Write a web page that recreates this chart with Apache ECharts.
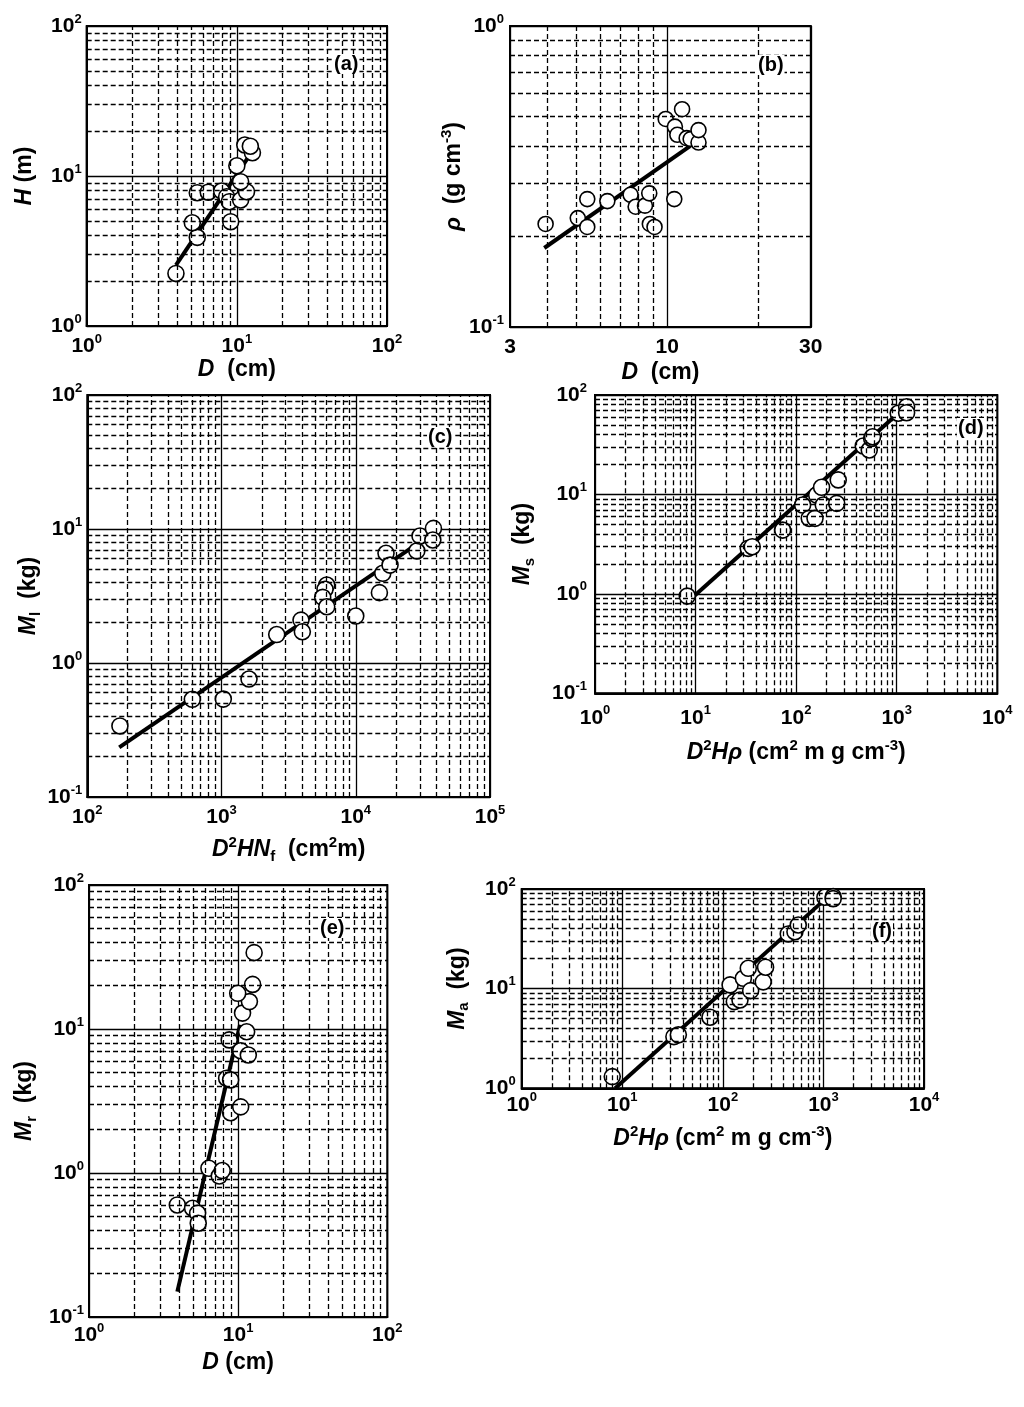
<!DOCTYPE html>
<html><head><meta charset="utf-8">
<script src="https://cdn.jsdelivr.net/npm/echarts@6/dist/echarts.min.js"></script>
<style>html,body{margin:0;padding:0;background:#fff}#c{width:1024px;height:1407px}</style>
</head><body><div id="c"></div>
<script>
// ---------- data ----------
// (a) H vs D
const aD = [3.93, 5.45, 5.05, 5.45, 6.45, 7.92, 8.55, 8.9, 9.1, 10.6, 11.6, 10.6, 10.0, 11.3, 12.7, 12.3];
const aH = [2.24, 3.9, 4.88, 7.74, 7.8, 7.94, 7.28, 6.74, 4.96, 6.92, 7.86, 9.16, 11.7, 16.1, 14.3, 15.8];
const aFitX = [3.93, 11.9];
const aFitY = [2.55, 13.3];
// (b) rho vs D
const bD = [3.94, 5.04, 5.42, 5.42, 6.32, 7.55, 7.85, 8.43, 8.71, 8.75, 9.07, 10.55, 9.88, 10.6, 10.8, 11.2, 11.6, 11.96, 12.7, 12.7];
const bRho = [0.22, 0.23, 0.215, 0.266, 0.262, 0.275, 0.251, 0.253, 0.278, 0.22, 0.215, 0.266, 0.491, 0.463, 0.435, 0.529, 0.424, 0.421, 0.41, 0.451];
const bFitX = [3.9, 11.9];
const bFitY = [0.183, 0.399];
// (c) Ml vs D2HNf
const cX = [175, 606, 1031, 1602, 2577, 3909, 4000, 6080, 5900, 5670, 6080, 10000, 15000, 15900, 16800, 18000, 28500, 30100, 37900, 37500];
const cMl = [0.339, 0.536, 0.538, 0.76, 1.63, 2.09, 1.71, 3.82, 3.55, 3.09, 2.63, 2.24, 3.35, 4.67, 6.59, 5.38, 6.85, 8.87, 10.1, 8.28];
const cFitX = [173, 33800];
const cFitY = [0.235, 8.67];
// (d) Ms vs D2Hrho
const dX = [8.27, 33.4, 36.6, 73.4, 116, 135, 154, 160, 179, 186, 253, 262, 465, 533, 563, 575, 1035, 1254, 1254];
const dMs = [0.95, 2.87, 2.98, 4.38, 7.82, 5.75, 5.75, 9.86, 11.8, 7.82, 8.13, 14.0, 30.7, 28.0, 36.6, 38.0, 65.5, 76.2, 66.4];
const dFitX = [9.5, 1035];
const dFitY = [0.935, 65.5];
// (e) Mr vs D
const eD = [3.91, 4.95, 5.35, 5.4, 6.37, 7.47, 7.82, 8.37, 8.9, 8.9, 8.71, 10.4, 10.4, 11.7, 11.4, 10.7, 11.9, 9.93, 12.5, 12.8];
const eMr = [0.6, 0.569, 0.525, 0.448, 1.078, 0.953, 1.04, 4.55, 4.43, 2.62, 8.4, 2.88, 7.06, 6.6, 9.57, 12.9, 15.5, 17.7, 20.4, 33.9];
const eFitX = [3.91, 10.3];
const eFitY = [0.15, 10.7];
// (f) Ma vs D2Hrho
const fX = [7.95, 32.6, 36.1, 74.5, 118, 130, 148, 160, 179, 189, 252, 266, 447, 521, 562, 1035, 1250, 1250];
const fMa = [1.31, 3.3, 3.44, 5.17, 10.9, 7.41, 7.7, 12.7, 16.0, 9.55, 11.7, 16.4, 35.4, 37.3, 43.5, 82.6, 83.8, 80];
const fFitX = [8.5, 1070];
const fFitY = [1.0, 81];

// minor (dashed) grid values
const minor1to100 = [2,3,4,5,6,7,8,9,20,30,40,50,60,70,80,90];
const minor01to100 = [0.2,0.3,0.4,0.5,0.6,0.7,0.8,0.9,2,3,4,5,6,7,8,9,20,30,40,50,60,70,80,90];
const minor1e2to1e5 = [200,300,400,500,600,700,800,900,2000,3000,4000,5000,6000,7000,8000,9000,20000,30000,40000,50000,60000,70000,80000,90000];
const minor1to1e4 = [2,3,4,5,6,7,8,9,20,30,40,50,60,70,80,90,200,300,400,500,600,700,800,900,2000,3000,4000,5000,6000,7000,8000,9000];
const minorB_x = [4,5,6,7,8,9,20];
const minorB_y = [0.2,0.3,0.4,0.5,0.6,0.7,0.8,0.9];

const panelLabels = ['(a)', '(b)', '(c)', '(d)', '(e)', '(f)'];

// ---------- styling ----------
const FONT = '"Liberation Sans", Arial, Helvetica, sans-serif';
const TICK_FS = 21, NAME_FS = 23;
const tickRich = {
  sup: {fontSize: 13, fontWeight: 'bold', fontFamily: FONT, color: '#000', padding: [0, 0, 14, 0]}
};
const nameRich = {
  i: {fontSize: NAME_FS, fontWeight: 'bold', fontStyle: 'italic', fontFamily: FONT, color: '#000'},
  sup: {fontSize: 15, fontWeight: 'bold', fontFamily: FONT, color: '#000', padding: [0, 0, 13, 0]},
  sub: {fontSize: 15, fontWeight: 'bold', fontFamily: FONT, color: '#000', padding: [14, 0, 0, 0]}
};
function pow10Label(v) {
  const e = Math.round(Math.log10(v));
  return '10{sup|' + e + '}';
}
function plainLabel(v) { return String(Math.round(v)); }

function axis(i, o) {
  return {
    type: 'log', logBase: 10, gridIndex: i, min: o.min, max: o.max,
    name: o.name, nameLocation: 'middle', nameGap: o.gap,
    nameTextStyle: {fontSize: NAME_FS, fontWeight: 'bold', fontFamily: FONT, color: '#000', rich: nameRich},
    axisLine: {show: true, onZero: false, lineStyle: {color: '#000', width: 2}},
    axisTick: {show: false},
    axisLabel: {show: true, margin: o.margin, formatter: o.fmt || pow10Label,
      fontSize: TICK_FS, fontWeight: 'bold', fontFamily: FONT, color: '#000', rich: tickRich,
      showMinLabel: true, showMaxLabel: true, hideOverlap: false},
    splitLine: {show: true, lineStyle: {color: '#000', width: 1.3, type: 'solid'}},
    minorTick: {show: false}, minorSplitLine: {show: false}
  };
}

const panels = [
  {grid: [86.7, 26, 300.3, 300],
   x: {min: 1, max: 100, name: '{i|D}  (cm)', gap: 25, margin: 7}, y: {min: 1, max: 100, name: '{i|H} (m)', gap: 51, margin: 5},
   xm: minor1to100, ym: minor1to100, px: aD, py: aH, fx: aFitX, fy: aFitY, size: 16, lab: [333, 54]},
  {grid: [510, 26, 300.8, 301],
   x: {min: 3, max: 30, name: '{i|D}  (cm)', gap: 34, margin: 10, fmt: plainLabel}, y: {min: 0.1, max: 1, name: '{i|ρ}  (g cm{sup|-3})', gap: 35, margin: 6},
   xm: minorB_x, ym: minorB_y, px: bD, py: bRho, fx: bFitX, fy: bFitY, size: 15, lab: [757, 55]},
  {grid: [87.3, 395, 402.7, 402],
   x: {min: 100, max: 100000, name: '{i|D}{sup|2}{i|HN}{sub|f}  (cm{sup|2}m)', gap: 38, margin: 7}, y: {min: 0.1, max: 100, name: '{i|M}{sub|l}  (kg)', gap: 44, margin: 5},
   xm: minor1e2to1e5, ym: minor01to100, px: cX, py: cMl, fx: cFitX, fy: cFitY, size: 16, lab: [427, 427]},
  {grid: [595, 395, 402.3, 298.3],
   x: {min: 1, max: 10000, name: '{i|D}{sup|2}{i|Hρ} (cm{sup|2} m g cm{sup|-3})', gap: 45, margin: 11}, y: {min: 0.1, max: 100, name: '{i|M}{sub|s}  (kg)', gap: 58, margin: 8},
   xm: minor1to1e4, ym: minor01to100, px: dX, py: dMs, fx: dFitX, fy: dFitY, size: 16, lab: [957, 418]},
  {grid: [89, 885, 298.3, 432],
   x: {min: 1, max: 100, name: '{i|D} (cm)', gap: 34, margin: 5}, y: {min: 0.1, max: 100, name: '{i|M}{sub|r}  (kg)', gap: 50, margin: 5},
   xm: minor1to100, ym: minor01to100, px: eD, py: eMr, fx: eFitX, fy: eFitY, size: 16, lab: [319, 918]},
  {grid: [521.7, 889, 402.3, 199.3],
   x: {min: 1, max: 10000, name: '{i|D}{sup|2}{i|Hρ} (cm{sup|2} m g cm{sup|-3})', gap: 36, margin: 3}, y: {min: 1, max: 100, name: '{i|M}{sub|a}  (kg)', gap: 50, margin: 6},
   xm: minor1to1e4, ym: minor1to100, px: fX, py: fMa, fx: fFitX, fy: fFitY, size: 16, lab: [871, 921]}
];

const option = {
  animation: false,
  backgroundColor: '#fff',
  title: [], grid: [], xAxis: [], yAxis: [], series: []
};

panels.forEach((p, i) => {
  option.grid.push({left: p.grid[0], top: p.grid[1], width: p.grid[2], height: p.grid[3],
    show: true, borderColor: '#000', borderWidth: 2, backgroundColor: 'transparent', containLabel: false});
  option.xAxis.push(axis(i, p.x));
  option.yAxis.push(axis(i, p.y));
  const gridLines = p.xm.map(v => ({xAxis: v})).concat(p.ym.map(v => ({yAxis: v})));
  option.series.push({
    type: 'line', xAxisIndex: i, yAxisIndex: i, z: 3,
    data: p.fx.map((x, k) => [x, p.fy[k]]),
    showSymbol: false, symbol: 'none', silent: true,
    lineStyle: {color: '#000', width: 4},
    emphasis: {disabled: true},
    markLine: {silent: true, symbol: ['none', 'none'], label: {show: false}, animation: false,
      emphasis: {disabled: true},
      lineStyle: {color: '#000', type: [5, 3], width: 1.3}, data: gridLines}
  });
  option.series.push({
    type: 'scatter', xAxisIndex: i, yAxisIndex: i, z: 4,
    data: p.px.map((x, k) => [x, p.py[k]]),
    symbol: 'circle', symbolSize: p.size, silent: true,
    itemStyle: {color: '#fff', borderColor: '#000', borderWidth: 1.6, opacity: 1},
    emphasis: {disabled: true}
  });
  option.title.push({text: panelLabels[i], left: p.lab[0], top: p.lab[1], padding: [0, 1],
    backgroundColor: '#fff',
    textStyle: {fontSize: 20, fontWeight: 'bold', fontFamily: FONT, color: '#000'}});
});

const chart = echarts.init(document.getElementById('c'), null, {renderer: 'canvas'});
chart.setOption(option);
</script></body></html>
